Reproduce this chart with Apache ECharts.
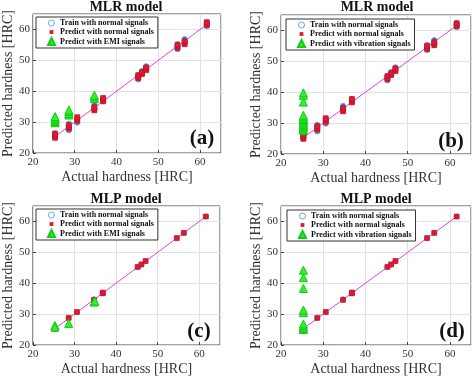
<!DOCTYPE html>
<html><head><meta charset="utf-8">
<script src="https://cdn.jsdelivr.net/npm/echarts@6/dist/echarts.min.js"></script>
<style>html,body{margin:0;padding:0;background:#fff}#c{width:474px;height:379px}</style>
</head><body><div id="c"></div>
<script>
// ---- data ----
const panelTitles = ['MLR model', 'MLR model', 'MLP model', 'MLP model'];
const panelLetters = ['(a)', '(b)', '(c)', '(d)'];
const xTicks = [20, 30, 40, 50, 60];
const axisMin = 20, axisMax = 65, tickStep = 10;
const idealLine = [[25.3, 25.3], [61.6, 61.6]];
const legendNames = [
  ['Train with normal signals', 'Predict with normal signals', 'Predict with EMI signals'],
  ['Train with normal signals', 'Predict with normal signals', 'Predict with vibration signals'],
  ['Train with normal signals', 'Predict with normal signals', 'Predict with EMI signals'],
  ['Train with normal signals', 'Predict with normal signals', 'Predict with vibration signals']
];
// MLR (a, b) normal signals
const trainMLR = [
  [25.3,25.0],[25.3,25.5],[25.3,26.0],[25.3,26.4],
  [28.6,27.3],[28.6,27.8],[28.6,28.5],[28.6,29.2],[28.6,29.5],
  [30.6,29.8],[30.6,30.2],[30.6,30.8],[30.6,31.3],
  [34.7,34.5],[34.7,35.0],[34.7,35.6],
  [36.8,36.8],[36.8,37.3],[36.8,37.9],
  [45.2,43.8],[45.2,44.3],[45.2,44.8],[45.2,45.3],
  [46.1,45.5],[46.1,46.0],[46.1,46.6],
  [47.1,47.0],[47.1,47.5],[47.1,48.1],
  [54.6,53.6],[54.6,54.2],[54.6,54.8],[54.6,55.3],
  [56.3,55.3],[56.3,55.9],[56.3,56.5],[56.3,56.9],
  [61.6,61.0],[61.6,61.5],[61.6,62.0],[61.6,62.5]
];
const predMLR = [
  [25.3,24.9],[25.3,25.4],[25.3,25.9],[25.3,26.3],
  [28.6,27.9],[28.6,28.4],[28.6,29.0],
  [30.6,30.4],[30.6,31.0],[30.6,31.6],
  [34.7,33.8],[34.7,34.3],[34.7,34.8],
  [36.8,36.7],[36.8,37.2],[36.8,37.8],
  [45.2,44.2],[45.2,44.7],[45.2,45.2],
  [46.1,45.6],[46.1,46.1],
  [47.1,46.8],[47.1,47.3],[47.1,47.7],
  [54.6,54.0],[54.6,54.5],[54.6,55.0],
  [56.3,55.2],[56.3,55.7],[56.3,56.2],
  [61.6,61.4],[61.6,61.9],[61.6,62.3]
];
const emiMLR = [
  [25.3,29.8],[25.3,30.2],[25.3,30.6],[25.3,31.0],[25.3,31.4],[25.3,31.8],
  [28.6,32.3],[28.6,32.8],[28.6,33.4],[28.6,33.9],
  [34.7,37.6],[34.7,38.2],[34.7,38.7]
];
const vibMLR = [
  [25.3,27.6],[25.3,28.0],[25.3,28.4],[25.3,28.8],[25.3,29.2],[25.3,29.6],
  [25.3,30.0],[25.3,30.4],[25.3,30.8],[25.3,31.2],[25.3,31.6],[25.3,32.0],
  [25.3,32.5],[25.3,36.8],[25.3,39.0],[25.3,39.8]
];
// MLP (c, d) normal signals
const trainMLP = [
  [25.3,25.4],[28.6,28.7],[30.6,30.6],[34.7,34.8],[36.8,36.9],
  [45.2,45.2],[46.1,46.0],[47.1,47.1],[54.6,54.6],[56.3,56.3],[61.6,61.6]
];
const predMLP = [
  [25.3,25.2],[28.6,28.8],[30.6,30.7],[34.7,34.6],[36.8,36.7],[36.8,37.0],
  [45.2,45.3],[46.1,46.1],[47.1,47.2],[54.6,54.6],[56.3,56.3],[61.6,61.6]
];
const emiMLP = [[25.3,26.3],[25.3,25.8],[28.6,27.0],[34.7,33.9],[34.9,34.2]];
const vibMLP = [
  [25.3,25.0],[25.3,25.4],[25.3,25.8],[25.3,26.3],[25.3,26.8],
  [25.3,30.5],[25.3,31.3],[25.3,38.3],[25.3,41.8],[25.3,44.2]
];
const panelSeries = [
  [trainMLR, predMLR, emiMLR],
  [trainMLR, predMLR, vibMLR],
  [trainMLP, predMLP, emiMLP],
  [trainMLP, predMLP, vibMLP]
];

// ---- layout / styles ----
const grids = [
  {left: 32, top: 14, width: 189, height: 139},
  {left: 281, top: 15, width: 190, height: 139},
  {left: 31, top: 206, width: 189, height: 139},
  {left: 281, top: 206, width: 190, height: 139}
];
const legendPos = [
  {left: 36, top: 17}, {left: 286, top: 19}, {left: 36, top: 209}, {left: 287, top: 210}
];
const titlePos = [[126, 7], [377, 7], [126, 199], [376, 199]];
const letterPos = [[202, 139], [451, 142], [199, 332], [452, 332]];
const serif = '"Liberation Serif", "Times New Roman", serif';
const blue = '#2f6fc4', blueEdge = '#6fa6dc';
const red = '#e3182d';
const green = '#33ee33', greenEdge = '#11cc11';
const smallRect = 'path://M0,0M1.6,1.6h3.8v3.8h-3.8zM7,7';
const smallCircle = 'path://M0,0M6.5,3.5A3,3,0,1,1,0.5,3.5A3,3,0,1,1,6.5,3.5zM7,7';

const option = {
  animation: false,
  backgroundColor: '#fff',
  grid: grids.map(g => Object.assign({show: true, borderColor: '#444', borderWidth: 1, backgroundColor: 'transparent'}, g)),
  xAxis: grids.map((g, i) => ({
    gridIndex: i, type: 'value', min: axisMin, max: axisMax, interval: tickStep,
    name: 'Actual hardness [HRC]', nameLocation: 'middle', nameGap: 17,
    nameTextStyle: {fontFamily: serif, fontSize: 14, color: '#333'},
    axisLine: {show: false},
    axisTick: {show: true, inside: true, length: 3, lineStyle: {color: '#444'}},
    axisLabel: {fontFamily: serif, fontSize: 11, color: '#333', margin: 4, showMaxLabel: false,
      formatter: v => xTicks.indexOf(v) >= 0 ? String(v) : ''},
    splitLine: {show: true, lineStyle: {color: '#e2e2e2', width: 1}}
  })),
  yAxis: grids.map((g, i) => ({
    gridIndex: i, type: 'value', min: axisMin, max: axisMax, interval: tickStep,
    name: 'Predicted hardness [HRC]', nameLocation: 'middle', nameGap: i % 2 === 0 ? 16 : 15,
    nameTextStyle: {fontFamily: serif, fontSize: 14, color: '#333'},
    axisLine: {show: false},
    axisTick: {show: true, inside: true, length: 3, lineStyle: {color: '#444'}},
    axisLabel: {fontFamily: serif, fontSize: 11, color: '#333', margin: 3, showMaxLabel: false,
      formatter: v => xTicks.indexOf(v) >= 0 ? String(v) : ''},
    splitLine: {show: true, lineStyle: {color: '#e2e2e2', width: 1}}
  })),
  legend: legendNames.map((names, i) => ({
    orient: 'vertical', left: legendPos[i].left, top: legendPos[i].top,
    padding: [2, 4, 2, 11], itemGap: 1, itemWidth: 7, itemHeight: 7,
    borderColor: '#333', borderWidth: 1, backgroundColor: '#fff',
    selectedMode: false,
    textStyle: {fontFamily: serif, fontSize: 8, fontWeight: 'bold', color: '#111', lineHeight: 8},
    data: [
      {name: names[0], icon: smallCircle, itemStyle: {color: 'transparent', borderColor: blueEdge, borderWidth: 1}},
      {name: names[1], icon: smallRect, itemStyle: {color: red, borderWidth: 0}},
      {name: names[2], icon: 'triangle', itemStyle: {color: green, borderColor: greenEdge}}
    ]
  })),
  graphic: [],
  series: []
};

for (let i = 0; i < 4; i++) {
  const [tr, pr, gr] = panelSeries[i];
  option.series.push({
    type: 'line', xAxisIndex: i, yAxisIndex: i, data: idealLine, symbol: 'none',
    lineStyle: {color: '#e040e6', width: 1}, silent: true, z: 2
  });
  option.series.push({
    name: legendNames[i][0], type: 'scatter', xAxisIndex: i, yAxisIndex: i, data: tr,
    symbol: 'circle', symbolSize: 5, itemStyle: {color: blue, borderColor: blueEdge, borderWidth: 1, opacity: 1}, z: 3
  });
  option.series.push({
    name: legendNames[i][1], type: 'scatter', xAxisIndex: i, yAxisIndex: i, data: pr,
    symbol: 'rect', symbolSize: 5, itemStyle: {color: red, borderColor: '#b0102a', borderWidth: 0.5, opacity: 1}, z: 4
  });
  option.series.push({
    name: legendNames[i][2], type: 'scatter', xAxisIndex: i, yAxisIndex: i, data: gr,
    symbol: 'triangle', symbolSize: 8, itemStyle: {color: green, borderColor: greenEdge, borderWidth: 1, opacity: 1}, z: 5
  });
  option.graphic.push({
    type: 'text', x: titlePos[i][0], y: titlePos[i][1], z: 10,
    style: {text: panelTitles[i], fill: '#111', font: 'bold 14px ' + serif,
      align: 'center', verticalAlign: 'middle', textAlign: 'center', textVerticalAlign: 'middle'}
  });
  option.graphic.push({
    type: 'text', x: letterPos[i][0], y: letterPos[i][1], z: 10,
    style: {text: panelLetters[i], fill: '#111', font: 'bold 21px ' + serif,
      align: 'center', verticalAlign: 'middle', textAlign: 'center', textVerticalAlign: 'middle'}
  });
}

const chart = echarts.init(document.getElementById('c'));
chart.setOption(option);
</script>
</body></html>
